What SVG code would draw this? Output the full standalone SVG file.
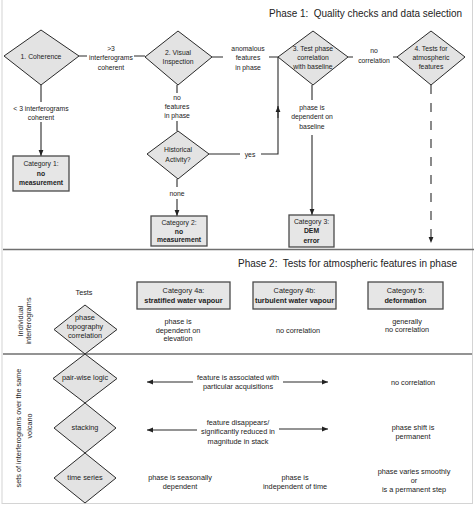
<svg xmlns="http://www.w3.org/2000/svg" width="474" height="505" viewBox="0 0 474 505">
<defs>
<marker id="ah" viewBox="0 0 10 10" refX="10" refY="5" markerWidth="6" markerHeight="6" orient="auto" markerUnits="userSpaceOnUse"><path d="M0,1 L10,5 L0,9 z" fill="#222"/></marker>
<style>
.frame{fill:none;stroke:#d4d4d4;stroke-width:1}
.sep{stroke:#6f6f6f;stroke-width:1.4;fill:none}
.dia{fill:#e3e3e3;stroke:#2a2a2a;stroke-width:1}
.box{fill:#e6e6e6;stroke:#4a4a4a;stroke-width:1.3}
.ln{stroke:#2a2a2a;stroke-width:1.1;fill:none}
.dash{stroke-dasharray:9 9}
text{font-family:"Liberation Sans",Arial,sans-serif;fill:#222;text-anchor:middle}
.s{font-size:6.8px}
.m{font-size:7.3px}
.b{font-weight:bold}
.title{font-size:10.5px;text-anchor:start;white-space:pre}
</style>
</defs>
<rect class="frame" x="2" y="-2" width="470.5" height="505.5"/>
<line class="sep" x1="3" y1="249.5" x2="474" y2="249.5"/>
<line class="sep" x1="3" y1="354" x2="472" y2="354"/>
<text class="title" x="269" y="16.5" textLength="193" lengthAdjust="spacingAndGlyphs" xml:space="preserve">Phase 1:  Quality checks and data selection</text>
<text class="title" x="238" y="266.5" textLength="219" lengthAdjust="spacingAndGlyphs" xml:space="preserve">Phase 2:  Tests for atmospheric features in phase</text>

<g id="connectors">
<path class="ln" d="M79,56 H87 M134,56 H145"/>
<path class="ln" d="M41,85 V102"/>
<path class="ln" d="M41,122 V156" marker-end="url(#ah)"/>
<path class="ln" d="M212,57 H223 M269,57 H278"/>
<path class="ln" d="M177,85 V93 M177,121 V131"/>
<path class="ln" d="M209,154 H240 M261,154 H278 V57"/>
<path class="ln" d="M278,118 V106" marker-end="url(#ah)"/>
<path class="ln" d="M177,179 V187"/>
<path class="ln" d="M177,199 V216" marker-end="url(#ah)"/>
<path class="ln" d="M348,57 H353 M393,57 H397"/>
<path class="ln" d="M312,85 V100"/>
<path class="ln" d="M312,135 V215" marker-end="url(#ah)"/>
<path class="ln dash" d="M431,85 V243" marker-end="url(#ah)"/>
<path class="ln" d="M193,382 H147" marker-end="url(#ah)"/>
<path class="ln" d="M283,382 H328" marker-end="url(#ah)"/>
<path class="ln" d="M197,430 H147" marker-end="url(#ah)"/>
<path class="ln" d="M279,429 H328" marker-end="url(#ah)"/>
</g>

<g id="conn-labels">
<text class="s" x="111" y="50.5">&gt;3</text>
<text class="s" x="111" y="60">interferograms</text>
<text class="s" x="111" y="69.5">coherent</text>
<text class="s" x="41" y="110.5">&lt; 3 interferograms</text>
<text class="s" x="41" y="119.5">coherent</text>
<text class="s" x="248" y="50.5">anomalous</text>
<text class="s" x="248" y="60">features</text>
<text class="s" x="248" y="69.5">in phase</text>
<text class="s" x="177" y="99.5">no</text>
<text class="s" x="177" y="108.5">features</text>
<text class="s" x="177" y="117.5">in phase</text>
<text class="s" x="250" y="156.5">yes</text>
<text class="s" x="177" y="195.5">none</text>
<text class="s" x="374" y="53">no</text>
<text class="s" x="374" y="62.5">correlation</text>
<text class="s" x="312" y="109.5">phase is</text>
<text class="s" x="312" y="119">dependent on</text>
<text class="s" x="312" y="129">baseline</text>
</g>

<g id="n1"><polygon class="dia" points="41,30 79,56 41,85 4,56"/><text class="s" x="41" y="59">1. Coherence</text></g>
<g id="n2"><polygon class="dia" points="178,31 212,57 178,85 145,57"/><text class="s" x="178" y="54.5">2. Visual</text><text class="s" x="178" y="64">Inspection</text></g>
<g id="n3"><polygon class="dia" points="313,31 348,57 313,85 278,57"/><text class="s" x="313" y="50.5">3. Test phase</text><text class="s" x="313" y="59.5">correlation</text><text class="s" x="313" y="68.5">with baseline</text></g>
<g id="n4"><polygon class="dia" points="431,31 465,57 431,85 397,57"/><text class="s" x="431" y="50.5">4. Tests for</text><text class="s" x="431" y="59.5">atmospheric</text><text class="s" x="431" y="68.5">features</text></g>
<g id="n5"><polygon class="dia" points="178,131 209,154 178,179 147,154"/><text class="s" x="178" y="152">Historical</text><text class="s" x="178" y="161.5">Activity?</text></g>
<g id="c1"><rect class="box" x="13" y="156" width="56" height="35"/><text class="s" x="41" y="166">Category 1:</text><text class="s b" x="41" y="175.5">no</text><text class="s b" x="41" y="185">measurement</text></g>
<g id="c2"><rect class="box" x="151" y="216" width="56" height="30"/><text class="s" x="179" y="224.5">Category 2:</text><text class="s b" x="179" y="233.5">no</text><text class="s b" x="179" y="242">measurement</text></g>
<g id="c3"><rect class="box" x="289" y="215" width="45" height="32"/><text class="s" x="311.5" y="224">Category 3:</text><text class="s b" x="311.5" y="233">DEM</text><text class="s b" x="311.5" y="242.5">error</text></g>

<g id="p2-headers">
<text class="m" x="84" y="294.5">Tests</text>
<g id="c4a"><rect class="box" x="137" y="282" width="93" height="27"/><text class="m" x="183.5" y="293">Category 4a:</text><text class="m b" x="183.5" y="303">stratified water vapour</text></g>
<g id="c4b"><rect class="box" x="253" y="282" width="83" height="27"/><text class="m" x="294.5" y="293">Category 4b:</text><text class="m b" x="294.5" y="303">turbulent water vapour</text></g>
<g id="c5"><rect class="box" x="368" y="282" width="75" height="27"/><text class="m" x="405.5" y="293">Category 5:</text><text class="m b" x="405.5" y="303">deformation</text></g>
</g>

<g id="side-labels">
<text class="m" transform="translate(22.5,321) rotate(-90)">Individual</text>
<text class="m" transform="translate(31,321) rotate(-90)">interferograms</text>
<text class="m" transform="translate(20.5,428) rotate(-90)">sets of interferograms over the same</text>
<text class="m" transform="translate(31.5,426) rotate(-90)">volcano</text>
</g>

<g id="t1"><polygon class="dia" points="85,305 117,329.5 85,354 54,329.5"/><text class="m" x="85" y="320">phase</text><text class="m" x="85" y="328.5">topography</text><text class="m" x="85" y="337.5">correlation</text></g>
<g id="t2"><polygon class="dia" points="85,354 117,378.5 85,403 53,378.5"/><text class="m" x="85" y="380">pair-wise logic</text></g>
<g id="t3"><polygon class="dia" points="85,403 116,428 85,453 54,428"/><text class="m" x="85" y="430">stacking</text></g>
<g id="t4"><polygon class="dia" points="85,453 116,478 85,503 54,478"/><text class="m" x="85" y="480">time series</text></g>

<g id="results">
<text class="m" x="178" y="323.5">phase is</text>
<text class="m" x="178" y="332.5">dependent on</text>
<text class="m" x="178" y="341">elevation</text>
<text class="m" x="298" y="332.5">no correlation</text>
<text class="m" x="407" y="323.5">generally</text>
<text class="m" x="407" y="331.5">no correlation</text>
<text class="m" x="238" y="379.5">feature is associated with</text>
<text class="m" x="238" y="389">particular acquisitions</text>
<text class="m" x="413" y="384.5">no correlation</text>
<text class="m" x="238" y="424.5">feature disappears/</text>
<text class="m" x="238" y="434">significantly reduced in</text>
<text class="m" x="238" y="443.5">magnitude in stack</text>
<text class="m" x="413" y="429.5">phase shift is</text>
<text class="m" x="413" y="439">permanent</text>
<text class="m" x="180" y="479.5">phase is seasonally</text>
<text class="m" x="180" y="488.5">dependent</text>
<text class="m" x="295" y="479.5">phase is</text>
<text class="m" x="295" y="488.5">independent of time</text>
<text class="m" x="414" y="473.5">phase varies smoothly</text>
<text class="m" x="414" y="482.5">or</text>
<text class="m" x="414" y="491.5">is a permanent step</text>
</g>
</svg>
